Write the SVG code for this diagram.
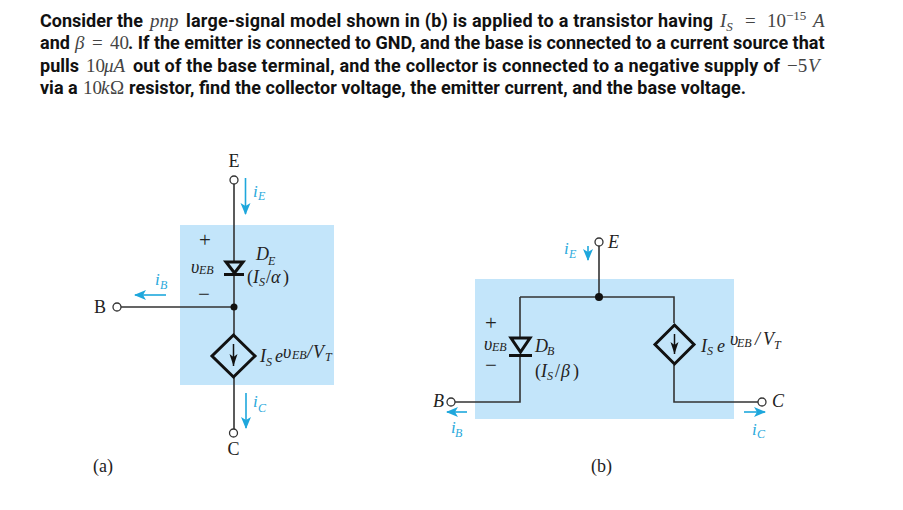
<svg xmlns="http://www.w3.org/2000/svg" width="903" height="510" viewBox="0 0 903 510">
<defs>
<marker id="blue" markerWidth="14" markerHeight="12" refX="11" refY="5" orient="auto" markerUnits="userSpaceOnUse"><path d="M0 0L12 5L0 10L3 5Z" fill="#1ea7dc"/></marker>
<marker id="blk" markerWidth="14" markerHeight="10" refX="12" refY="4" orient="auto" markerUnits="userSpaceOnUse"><path d="M0 0L12 4L0 8L3 4Z" fill="#111"/></marker>
</defs>
<style>
.q{font:700 18px Roboto,"Liberation Sans",sans-serif;fill:#111}
.m{font:19px "Liberation Serif",serif;fill:#444}
.mi{font:italic 19px "Liberation Serif",serif;fill:#444}
.ms{font:13px "Liberation Serif",serif;fill:#444}
.t{font:18px "Liberation Serif",serif;fill:#222}
.pm{font:21px "Liberation Serif",serif;fill:#222}
.i{font:italic 18px "Liberation Serif",serif;fill:#222}
.s{font:italic 12px "Liberation Serif",serif;fill:#222}
.bi{font:italic 17px "Liberation Serif",serif;fill:#29a9dc}
.bs{font:italic 12px "Liberation Serif",serif;fill:#29a9dc}
.w{fill:none;stroke:#333;stroke-width:1.6}
.d{fill:none;stroke:#111;stroke-width:3}
.b{stroke:#1ea7dc;stroke-width:1.6;fill:none;marker-end:url(#blue)}
.o{fill:#fff;stroke:#333;stroke-width:1.3}
.p{fill:#c3e5fa}
</style>
<g id="question">
<text x="40" y="27" class="q">Consider the</text><text x="150" y="27" class="mi">pnp</text><text x="186" y="27" class="q" textLength="527">large-signal model shown in (b) is applied to a transistor having</text>
<text x="720" y="27" class="mi">I<tspan dy="4" style="font-size:13px">S</tspan></text><text x="745" y="27" class="m">=</text><text x="767" y="27" class="m">10</text><text x="786" y="20" class="ms">−15</text><text x="813" y="27" class="mi">A</text>
<text x="40" y="49" class="q">and</text><text x="75" y="49" class="mi">β</text><text x="92" y="49" class="m">=</text><text x="110" y="49" class="m">40</text><text x="128" y="49" class="q">. If the emitter is connected to GND, and the base is connected to a current source that</text>
<text x="40" y="72" class="q">pulls</text><text x="86" y="72" class="m">10</text><text x="104" y="72" class="mi">μA</text><text x="133" y="72" class="q" textLength="647">out of the base terminal, and the collector is connected to a negative supply of</text><text x="787" y="72" class="m">−5</text><text x="808" y="72" class="mi">V</text>
<text x="40" y="94" class="q">via a</text><text x="83" y="94" class="m">10</text><text x="101" y="94" class="mi">k</text><text x="110" y="94" class="m">Ω</text><text x="129" y="94" class="q" textLength="617">resistor, find the collector voltage, the emitter current, and the base voltage.</text>
</g>
<g id="panel-a"><rect class="p" x="180" y="225" width="154" height="160"/></g>
<g id="panel-b"><rect class="p" x="475" y="279" width="259" height="140"/></g>
<g id="connectors">
<path class="w" d="M234 184V262M234 274V335M121 307H234M234 377V429"/>
<path class="w" d="M599 246V297M520 297H674V323M520 297V337M520 356V402H455M674 365V402H758"/>
<path class="b" d="M245.500 178V214"/><path class="b" d="M166 295H135"/><path class="b" d="M246 393V428"/>
<path class="b" d="M588 246V260"/><path class="b" d="M467 412H447"/><path class="b" d="M744 412H765"/>
</g>
<g id="terminal-E-a"><circle class="o" cx="234" cy="180" r="4"/><text class="t" x="234" y="167" text-anchor="middle">E</text><text class="bi" x="253" y="197">i</text><text class="bs" x="258" y="200">E</text></g>
<g id="terminal-B-a"><circle class="o" cx="117" cy="307" r="4"/><text class="t" x="94" y="313">B</text><text class="bi" x="155" y="285">i</text><text class="bs" x="160" y="289">B</text></g>
<g id="terminal-C-a"><circle class="o" cx="233.500" cy="433" r="4"/><text class="t" x="233.500" y="455" text-anchor="middle">C</text><text class="bi" x="253" y="407">i</text><text class="bs" x="258" y="412">C</text></g>
<g id="diode-a"><path class="d" d="M226 262H243L234.500 273ZM224 274.500H244"/><text class="pm" x="205" y="247" text-anchor="middle">+</text><text class="pm" x="204" y="301" text-anchor="middle">−</text><text class="i" x="191" y="273">υ</text><text class="s" x="199" y="274">EB</text><text class="i" x="256" y="260">D</text><text class="s" x="268" y="265">E</text><text class="t" x="247" y="283">(</text><text class="i" x="253" y="283">I</text><text class="s" x="259" y="286">S</text><text class="t" x="266" y="283">/</text><text class="i" x="271" y="283">α</text><text class="t" x="283" y="283">)</text></g>
<g id="source-a"><path class="d" d="M233.500 335L255 356L233.500 377L212 356Z"/><path d="M233.500 344V366" stroke="#111" stroke-width="1.500" marker-end="url(#blk)"/><text class="i" x="260" y="362">I</text><text class="s" x="266" y="366">S</text><text class="i" x="275" y="362">e</text><text class="i" x="283" y="358">υ</text><text class="s" x="292" y="359">EB</text><text class="i" x="307" y="358">/</text><text class="i" x="313" y="358">V</text><text class="s" x="325" y="361">T</text></g>
<text id="label-a" class="t" x="93" y="472">(a)</text>
<g id="terminal-E-b"><circle class="o" cx="599" cy="242" r="4"/><text class="i" x="608" y="248">E</text><text class="bi" x="564" y="254">i</text><text class="bs" x="569" y="258">E</text></g>
<circle id="junction-a" cx="234" cy="307" r="3.500" fill="#111"/>
<circle id="junction-b" cx="599" cy="297" r="4" fill="#111"/>
<g id="diode-b"><path class="d" d="M511 338H530L520.500 352ZM509 355.500H532"/><text class="pm" x="491" y="330" text-anchor="middle">+</text><text class="pm" x="491" y="372" text-anchor="middle">−</text><text class="i" x="484" y="350">υ</text><text class="s" x="492" y="351">EB</text><text class="i" x="535" y="352">D</text><text class="s" x="547" y="355">B</text><text class="t" x="535" y="377">(</text><text class="i" x="541" y="377">I</text><text class="s" x="547" y="380">S</text><text class="t" x="555" y="377">/</text><text class="i" x="561" y="377">β</text><text class="t" x="573" y="377">)</text></g>
<g id="terminal-B-b"><circle class="o" cx="451" cy="402" r="4"/><text class="i" x="433" y="407">B</text><text class="bi" x="451" y="433">i</text><text class="bs" x="455" y="437">B</text></g>
<g id="source-b"><path class="d" d="M674.500 325L694 344.500L674.500 364L655 344.500Z"/><path d="M674.500 334V354" stroke="#111" stroke-width="1.500" marker-end="url(#blk)"/><text class="i" x="701" y="352">I</text><text class="s" x="707" y="355">S</text><text class="i" x="717" y="352">e</text><text class="i" x="730" y="345">υ</text><text class="s" x="737" y="347">EB</text><text class="i" x="755" y="345">/</text><text class="i" x="763" y="345">V</text><text class="s" x="774" y="349">T</text></g>
<g id="terminal-C-b"><circle class="o" cx="762" cy="402" r="4"/><text class="i" x="772" y="407">C</text><text class="bi" x="752" y="435">i</text><text class="bs" x="757" y="438">C</text></g>
<text id="label-b" class="t" x="591" y="472">(b)</text>
</svg>
